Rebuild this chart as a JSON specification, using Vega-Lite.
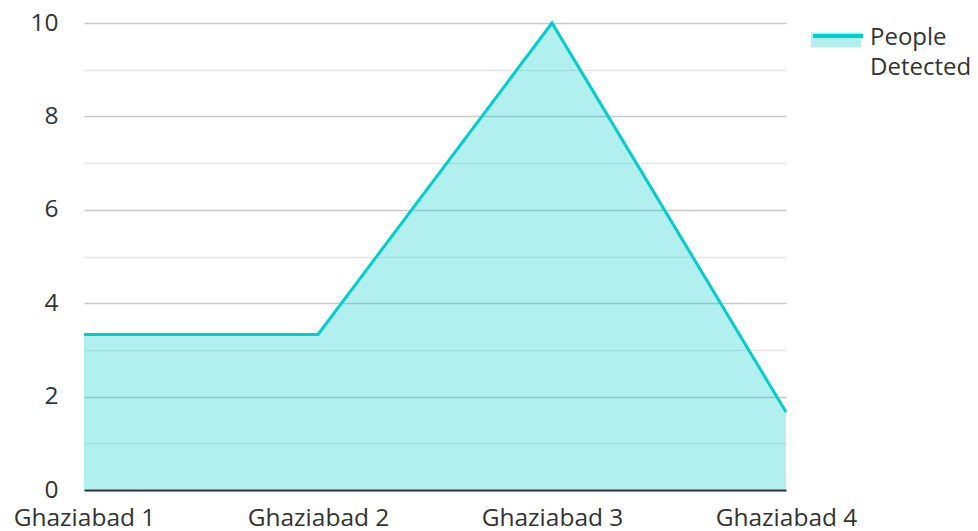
{
  "$schema": "https://vega.github.io/schema/vega-lite/v6.json",
  "width": 702,
  "height": 467,
  "autosize": {"type": "none"},
  "padding": {"left": 84, "top": 23, "right": 192, "bottom": 41},
  "background": "white",
  "config": {
    "view": {"stroke": null},
    "font": "Open Sans",
    "axis": {"labelFont": "Open Sans", "labelFontSize": 24.5, "labelColor": "#333333", "ticks": false, "title": null},
    "legend": {"labelFont": "Open Sans", "labelFontSize": 24, "labelColor": "#333333"}
  },
  "data": {
    "values": [
      {"location": "Ghaziabad 1", "people": 3.33},
      {"location": "Ghaziabad 2", "people": 3.33},
      {"location": "Ghaziabad 3", "people": 10},
      {"location": "Ghaziabad 4", "people": 1.67}
    ]
  },
  "encoding": {
    "x": {
      "field": "location",
      "type": "ordinal",
      "scale": {"type": "point", "padding": 0},
      "axis": {"labelAngle": 0, "grid": false, "domainColor": "#333333", "domainWidth": 2, "labelPadding": 16, "labelBaseline": "top"}
    },
    "y": {
      "field": "people",
      "type": "quantitative",
      "scale": {"domain": [0, 10], "nice": false},
      "axis": {
        "values": [0, 1, 2, 3, 4, 5, 6, 7, 8, 9, 10],
        "labelExpr": "datum.value % 2 ? '' : datum.label",
        "domain": false,
        "labelPadding": 26,
        "gridColor": {"condition": {"test": "datum.value % 2 === 0", "value": "#c8c8c8"}, "value": "#e6e6e6"},
        "gridWidth": 1.5
      }
    }
  },
  "layer": [
    {
      "mark": {"type": "area", "fillOpacity": 0.3},
      "encoding": {
        "fill": {
          "datum": "area",
          "scale": {"range": ["#00cccc"]},
          "legend": {
            "orient": "none", "legendX": 727, "legendY": -8, "title": null, "padding": 0,
            "symbolType": "M-1,-0.3L1,-0.3L1,0.3L-1,0.3Z", "symbolSize": 2500,
            "symbolStrokeWidth": 0, "symbolOpacity": 0.3,
            "labelExpr": "''", "labelOffset": 5
          }
        }
      }
    },
    {
      "mark": {"type": "line", "strokeWidth": 3},
      "encoding": {
        "stroke": {
          "datum": "People Detected",
          "scale": {"range": ["#00cccc"]},
          "legend": {
            "orient": "none", "legendX": 727, "legendY": -5, "title": null, "padding": 0,
            "symbolType": "M-1,-0.36L1,-0.36", "symbolSize": 2500, "symbolStrokeWidth": 4,
            "labelExpr": "['People', 'Detected']", "labelOffset": 5, "labelBaseline": "alphabetic",
            "encode": {"labels": {"update": {"lineHeight": {"value": 30}}}}
          }
        }
      }
    }
  ],
  "resolve": {"scale": {"fill": "independent", "stroke": "independent"}}
}
